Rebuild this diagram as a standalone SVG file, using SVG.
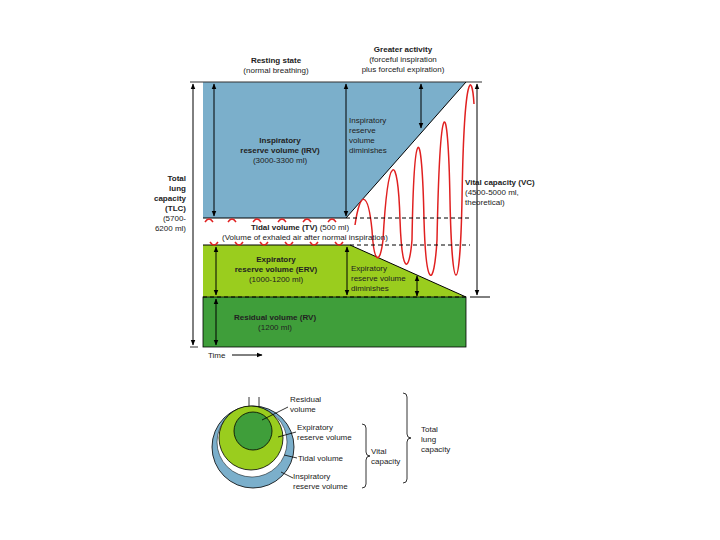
<svg xmlns="http://www.w3.org/2000/svg" width="720" height="540" viewBox="0 0 720 540">
<defs>
<marker id="a" viewBox="0 0 10 10" refX="9" refY="5" markerWidth="6" markerHeight="7" orient="auto-start-reverse"><path d="M0,1 L10,5 L0,9 z" fill="#000"/></marker>
<style>
text{font-family:"Liberation Sans",Arial,sans-serif;font-size:8px;fill:#222}
.b{font-weight:bold}
.ar{stroke:#000;stroke-width:1;fill:none;marker-start:url(#a);marker-end:url(#a)}
.d{stroke:#000;stroke-width:1;stroke-dasharray:4,3;fill:none}
.ln{stroke:#000;stroke-width:0.8;fill:none}
.r{stroke:#e02020;stroke-width:1.5;fill:none}
</style>
</defs>
<rect width="720" height="540" fill="#fff"/>
<g id="irv"><polygon points="203,82 466,82 346,218 203,218" fill="#7bafcb"/><line x1="190" y1="82" x2="482" y2="82" stroke="#333" stroke-width="1.2"/><line x1="203" y1="218" x2="346" y2="218" stroke="#000"/><line x1="346" y1="218" x2="466" y2="82" stroke="#000"/></g>
<g id="erv"><polygon points="203,245 350,245 466,297 203,297" fill="#9acd1e"/><line x1="203" y1="245" x2="350" y2="245" stroke="#000"/><line x1="350" y1="245" x2="466" y2="297" stroke="#000"/></g>
<g id="rv"><rect x="203" y="297" width="263" height="50" fill="#3f9e3a" stroke="#000" stroke-width="0.8"/><line x1="190" y1="347" x2="198" y2="347" stroke="#333"/></g>
<g id="waves">
<path class="r" d="M205,222 q4,-6 8,0 M228,222 q4,-6 8,0 M253,222 q4,-6 8,0 M278,222 q4,-6 8,0 M303,222 q4,-6 8,0 M328,222 q4,-6 8,0 M210,242 q4,6 8,0 M235,242 q4,6 8,0 M260,242 q4,6 8,0 M285,242 q4,6 8,0 M310,242 q4,6 8,0 M335,242 q4,6 8,0"/>
<path class="r" d="M355,225 C360,190 368,190 372,230 C374,265 380,265 383,240 C388,150 398,150 400,220 C402,275 409,275 412,240 C414,120 422,120 424,220 C426,290 434,290 437,240 C440,90 448,90 450,200 C452,300 460,300 462,200 C464,70 472,70 474,104"/>
</g>
<g id="connectors">
<line class="d" x1="346" y1="218" x2="470" y2="218"/>
<line class="d" x1="350" y1="245" x2="470" y2="245"/>
<line class="d" x1="203" y1="297" x2="466" y2="297"/>
<line class="ar" x1="193" y1="84" x2="193" y2="345"/>
<line class="ar" x1="214" y1="84" x2="214" y2="216"/>
<line class="ar" x1="346" y1="84" x2="346" y2="216"/>
<line class="ar" x1="421" y1="84" x2="421" y2="128"/>
<line class="ar" x1="477" y1="84" x2="477" y2="295"/>
<line x1="470" y1="297" x2="490" y2="297" stroke="#000"/>
<line class="ar" x1="216" y1="247" x2="216" y2="295"/>
<line class="ar" x1="347" y1="247" x2="347" y2="295"/>
<line class="ar" x1="417" y1="276" x2="417" y2="296"/>
<line class="ar" x1="216" y1="299" x2="216" y2="345"/>
<line x1="232" y1="355" x2="262" y2="355" stroke="#000" marker-end="url(#a)"/>
</g>
<g id="labels">
<text x="276" y="63" text-anchor="middle" class="b">Resting state</text>
<text x="276" y="73" text-anchor="middle">(normal breathing)</text>
<text x="403" y="52" text-anchor="middle" class="b">Greater activity</text>
<text x="403" y="62" text-anchor="middle">(forceful inspiration</text>
<text x="403" y="72" text-anchor="middle">plus forceful expiration)</text>
<text x="280" y="143" text-anchor="middle" class="b">Inspiratory</text>
<text x="280" y="153" text-anchor="middle" class="b">reserve volume (IRV)</text>
<text x="280" y="163" text-anchor="middle">(3000-3300 ml)</text>
<text x="349" y="123">Inspiratory</text><text x="349" y="133">reserve</text><text x="349" y="143">volume</text><text x="349" y="153">diminishes</text>
<text x="186" y="181" text-anchor="end" class="b">Total</text>
<text x="186" y="191" text-anchor="end" class="b">lung</text>
<text x="186" y="201" text-anchor="end" class="b">capacity</text>
<text x="186" y="211" text-anchor="end" class="b">(TLC)</text>
<text x="186" y="221" text-anchor="end">(5700-</text>
<text x="186" y="231" text-anchor="end">6200 ml)</text>
<text x="465" y="185" class="b">Vital capacity (VC)</text>
<text x="465" y="195">(4500-5000 ml,</text>
<text x="465" y="205">theoretical)</text>
<text x="300" y="230" text-anchor="middle"><tspan class="b">Tidal volume (TV)</tspan> (500 ml)</text>
<text x="305" y="240" text-anchor="middle">(Volume of exhaled air after normal inspiration)</text>
<text x="276" y="262" text-anchor="middle" class="b">Expiratory</text>
<text x="276" y="272" text-anchor="middle" class="b">reserve volume (ERV)</text>
<text x="276" y="282" text-anchor="middle">(1000-1200 ml)</text>
<text x="351" y="271">Expiratory</text><text x="351" y="281">reserve volume</text><text x="351" y="291">diminishes</text>
<text x="275" y="320" text-anchor="middle" class="b">Residual volume (RV)</text>
<text x="275" y="330" text-anchor="middle">(1200 ml)</text>
<text x="208" y="358">Time</text>
</g>
<g id="lung">
<line x1="249" y1="397" x2="249" y2="412" class="ln"/><line x1="259" y1="397" x2="259" y2="412" class="ln"/>
<circle cx="253" cy="447" r="41" fill="#7bafcb" stroke="#000" stroke-width="0.8"/>
<circle cx="252" cy="442" r="35" fill="#fff" stroke="#000" stroke-width="0.5"/>
<circle cx="251" cy="438" r="32" fill="#9acd1e" stroke="#000" stroke-width="0.8"/>
<circle cx="253" cy="431" r="19" fill="#3f9e3a" stroke="#000" stroke-width="0.8"/>
<line x1="288" y1="407" x2="262" y2="420" class="ln"/>
<line x1="296" y1="432" x2="278" y2="437" class="ln"/>
<line x1="297" y1="458" x2="284" y2="455" class="ln"/>
<line x1="293" y1="478" x2="281" y2="472" class="ln"/>
<text x="290" y="402">Residual</text><text x="290" y="412">volume</text>
<text x="297" y="430">Expiratory</text><text x="297" y="440">reserve volume</text>
<text x="298" y="461">Tidal volume</text>
<text x="293" y="479">Inspiratory</text><text x="293" y="489">reserve volume</text>
<path d="M362,424 q4,0 4,4 v24 q0,4 4,4 q-4,0 -4,4 v24 q0,4 -4,4" class="ln"/>
<text x="371" y="454">Vital</text><text x="371" y="464">capacity</text>
<path d="M403,393 q4,0 4,4 v37 q0,4 4,4 q-4,0 -4,4 v37 q0,4 -4,4" class="ln"/>
<text x="421" y="432">Total</text><text x="421" y="442">lung</text><text x="421" y="452">capacity</text>
</g>
</svg>
